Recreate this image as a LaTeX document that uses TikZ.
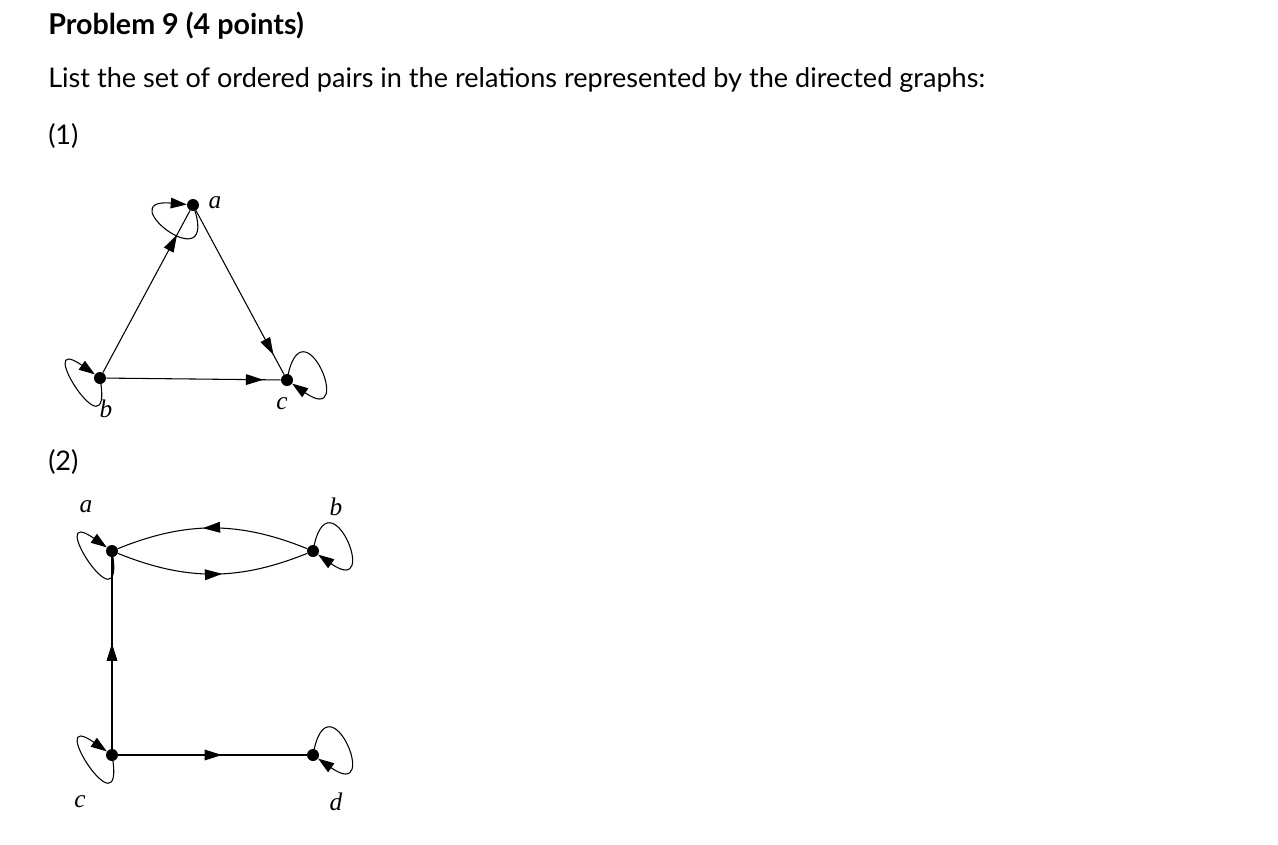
\documentclass[tikz,border=0pt]{standalone}
\usepackage{fontspec}
\setmainfont{Lato}
\usetikzlibrary{arrows.meta,decorations.markings}
\begin{document}
\begin{tikzpicture}[x=0.75pt,y=-0.75pt,
  vtx/.style={circle,fill=black,inner sep=0pt,minimum size=9pt},
  lbl/.style={font=\fontspec{Liberation Serif}\itshape\fontsize{19}{19}\selectfont},
  txt/.style={anchor=base west,inner sep=0pt,font=\fontsize{20.3}{22}\selectfont},
  tip/.style={-{Triangle[length=12pt,width=8pt]}},
  midtip/.style={postaction={decorate},decoration={markings,mark=at position #1 with {\arrow{Triangle[length=13pt,width=8pt]}}}},
  edge1/.style={line width=0.8pt}]
\useasboundingbox (0,0) rectangle (1278,844);
\node[txt,font=\bfseries\fontsize{21.5}{22}\selectfont] (t1) at (48,34) {Problem 9 (4 points)};
\node[txt] (t2) at (48,87) {List the set of ordered pairs in the relations represented by the directed graphs:};
\node[txt] (t3) at (48,144) {(1)};
\node[txt] (t4) at (48,470) {(2)};
% graph 1
\node[vtx] (a) at (193,205) {};
\node[vtx] (b) at (100,378) {};
\node[vtx] (c) at (287,380) {};
\node[lbl] (la) at (215,203) {a};
\node[lbl] (lb) at (106,409) {b};
\node[lbl] (lc) at (282,404) {c};
\draw[edge1,midtip=0.85] (b) -- (a);
\draw[edge1,midtip=0.88] (a) -- (c);
\draw[edge1,midtip=0.9] (b) -- (c);
\draw[edge1,tip] (a.center) .. controls +(70:85) and +(185:85) .. (a);
\draw[edge1,tip] (b.center) .. controls +(80:85) and +(215:85) .. (b);
\draw[edge1,tip] (c.center) .. controls +(-80:85) and +(35:85) .. (c);
% graph 2
\node[vtx] (a2) at (112,551) {};
\node[vtx] (b2) at (313,551) {};
\node[vtx] (c2) at (112,755) {};
\node[vtx] (d2) at (313,755) {};
\node[lbl] (la2) at (86,507) {a};
\node[lbl] (lb2) at (336,507) {b};
\node[lbl] (lc2) at (80,802) {c};
\node[lbl] (ld2) at (336,802) {d};
\draw[edge1,midtip=0.55] (b2) to[bend right=22] (a2);
\draw[edge1,midtip=0.55] (a2) to[bend right=22] (b2);
\draw[edge1,midtip=0.55] (c2) -- (a2);
\draw[edge1,midtip=0.55] (c2) -- (d2);
\draw[edge1,tip] (a2.center) .. controls +(80:85) and +(215:85) .. (a2);
\draw[edge1,tip] (c2.center) .. controls +(80:85) and +(215:85) .. (c2);
\draw[edge1,tip] (b2.center) .. controls +(-80:85) and +(35:85) .. (b2);
\draw[edge1,tip] (d2.center) .. controls +(-80:85) and +(35:85) .. (d2);
\end{tikzpicture}
\end{document}
